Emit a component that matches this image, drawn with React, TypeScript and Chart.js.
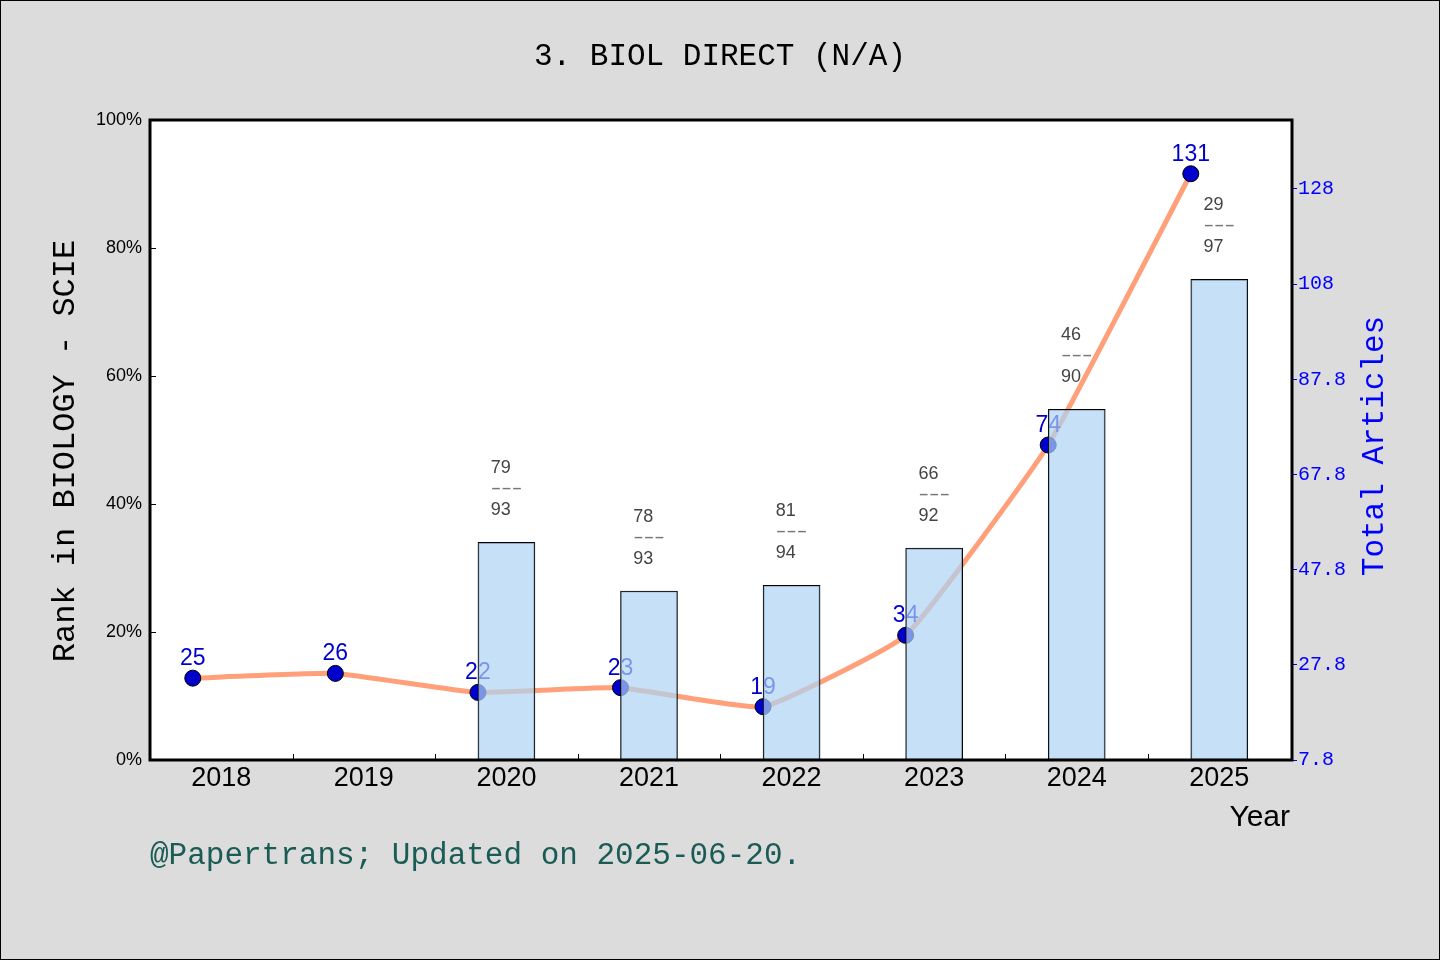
import { useEffect, useRef } from "react";
import { Chart, registerables } from "chart.js";

const years = ["2018", "2019", "2020", "2021", "2022", "2023", "2024", "2025"];
const totalArticles = [25, 26, 22, 23, 19, 34, 74, 131];
// rank bar heights in %, null where there is no bar
const rankPercent = [null, null, 34.0, 26.4, 27.3, 33.1, 54.8, 75.1];
const rankPos = [null, null, 79, 78, 81, 66, 46, 29];
const rankTotal = [null, null, 93, 93, 94, 92, 90, 97];
const rightTicks = [7.8, 27.8, 47.8, 67.8, 87.8, 107.8, 127.8];

const MONO = "'Liberation Mono', 'DejaVu Sans Mono', monospace";
const SANS = "'Liberation Sans', Arial, sans-serif";

const decorPlugin = {
  id: "decor",
  beforeDraw(chart: any) {
    const { ctx, width, height, chartArea } = chart;
    ctx.save();
    ctx.fillStyle = "#dcdcdc";
    ctx.fillRect(0, 0, width, height);
    ctx.strokeStyle = "#000";
    ctx.lineWidth = 1;
    ctx.strokeRect(0.5, 0.5, width - 1, height - 1);
    ctx.fillStyle = "#fff";
    ctx.fillRect(chartArea.left, chartArea.top, chartArea.right - chartArea.left, chartArea.bottom - chartArea.top);
    ctx.restore();
  },
  afterDatasetDraw(chart: any, args: any) {
    if (args.index !== 1) return;
    // point labels, drawn before bars so bars cover them
    const { ctx } = chart;
    const meta = chart.getDatasetMeta(1);
    ctx.save();
    ctx.font = `23px ${SANS}`;
    ctx.fillStyle = "#0000cd";
    ctx.textAlign = "center";
    ctx.textBaseline = "alphabetic";
    meta.data.forEach((pt: any, i: number) => {
      ctx.fillText(String(totalArticles[i]), pt.x, pt.y - 13);
    });
    ctx.restore();
  },
  afterDraw(chart: any) {
    const { ctx, chartArea, scales } = chart;
    const { left, right, top, bottom } = chartArea;
    ctx.save();
    // inward ticks
    ctx.strokeStyle = "#000";
    ctx.lineWidth = 1;
    [20, 40, 60, 80].forEach((v) => {
      const y = Math.round(scales.y.getPixelForValue(v)) + 0.5;
      ctx.beginPath();
      ctx.moveTo(left, y);
      ctx.lineTo(left + 6, y);
      ctx.stroke();
    });
    years.slice(0, 7).forEach((_, i) => {
      const x = Math.round(scales.x.getPixelForValue(i + 0.7)) + 0.5;
      ctx.beginPath();
      ctx.moveTo(x, bottom);
      ctx.lineTo(x, bottom - 6);
      ctx.stroke();
    });
    // frame
    ctx.lineWidth = 3;
    ctx.strokeRect(left, top, right - left, bottom - top);

    // bar labels
    const barMeta = chart.getDatasetMeta(0);
    ctx.textBaseline = "middle";
    ctx.textAlign = "left";
    ctx.font = `18px ${SANS}`;
    barMeta.data.forEach((bar: any, i: number) => {
      if (rankPercent[i] == null) return;
      const sx = 1.75;
      const dashW = ctx.measureText("---").width * sx;
      const x0 = bar.x - dashW / 2;
      const cy = bar.y - 53;
      ctx.save();
      ctx.translate(x0, cy);
      ctx.scale(sx, 1);
      ctx.fillStyle = "#777";
      ctx.fillText("---", 0, 0);
      ctx.restore();
      ctx.fillStyle = "#444";
      ctx.fillText(String(rankPos[i]), x0, cy - 21);
      ctx.fillText(String(rankTotal[i]), x0, cy + 21);
    });

    // titles
    ctx.textBaseline = "middle";
    ctx.fillStyle = "#000";
    ctx.textAlign = "center";
    ctx.font = `31px ${MONO}`;
    ctx.fillText("3. BIOL DIRECT (N/A)", 720, 57);
    ctx.textAlign = "right";
    ctx.font = `30px ${SANS}`;
    ctx.fillText("Year", 1290, 818);
    ctx.textAlign = "left";
    ctx.fillStyle = "#1a5c55";
    ctx.font = `31px ${MONO}`;
    ctx.fillText("@Papertrans; Updated on 2025-06-20.", 150, 856);

    ctx.save();
    ctx.translate(66, 451);
    ctx.rotate(-Math.PI / 2);
    ctx.textAlign = "center";
    ctx.fillStyle = "#000";
    ctx.font = `32px ${MONO}`;
    ctx.fillText("Rank in BIOLOGY - SCIE", 0, 0);
    ctx.restore();

    ctx.save();
    ctx.translate(1375, 446);
    ctx.rotate(-Math.PI / 2);
    ctx.textAlign = "center";
    ctx.fillStyle = "#0000ff";
    ctx.font = `31px ${MONO}`;
    ctx.fillText("Total Articles", 0, 0);
    ctx.restore();

    ctx.restore();
  },
};

export default function App() {
  const canvasRef = useRef<HTMLCanvasElement>(null);

  useEffect(() => {
    document.body.style.margin = "0";
    Chart.register(...registerables);
    const ctx = canvasRef.current!.getContext("2d")!;

    const chart = new Chart(ctx, {
      type: "bar",
      data: {
        datasets: [
          {
            type: "bar",
            data: rankPercent.map((v, i) => ({ x: i + 0.2, y: v })) as any,
            yAxisID: "y",
            xAxisID: "x",
            backgroundColor: "rgba(173, 211, 244, 0.7)",
            borderColor: "#000",
            borderWidth: 1,
            borderSkipped: false,
            barThickness: 57,
            order: 0,
          },
          {
            type: "line",
            data: totalArticles.map((v, i) => ({ x: i, y: v })),
            yAxisID: "y1",
            xAxisID: "x",
            borderColor: "#ffa07a",
            borderWidth: 5,
            tension: 0.12,
            pointRadius: 8,
            pointBackgroundColor: "#0000cd",
            pointBorderColor: "#000",
            pointBorderWidth: 1,
            order: 1,
          } as any,
        ],
      },
      options: {
        responsive: false,
        animation: false,
        layout: { padding: { top: 120, left: 0, right: 0, bottom: 0 } },
        plugins: {
          legend: { display: false },
          tooltip: { enabled: false },
          title: { display: false },
        },
        scales: {
          x: {
            type: "linear",
            offset: false,
            min: -0.3,
            max: 7.71,
            afterBuildTicks: (scale: any) => {
              scale.ticks = years.map((_, i) => ({ value: i + 0.2 }));
            },
            afterFit: (scale: any) => {
              scale.height = 200;
            },
            grid: { display: false, drawTicks: false, offset: false },
            border: { display: false },
            ticks: {
              autoSkip: false,
              maxRotation: 0,
              padding: 2,
              color: "#000",
              font: { family: SANS, size: 27 },
              callback: (_v: any, i: number) => years[i],
            },
          },
          y: {
            type: "linear",
            position: "left",
            min: 0,
            max: 100,
            afterFit: (scale: any) => {
              scale.width = 150;
            },
            grid: { display: false, drawTicks: false },
            border: { display: false },
            ticks: {
              stepSize: 20,
              padding: 8,
              color: "#000",
              font: { family: SANS, size: 18 },
              callback: (v: any) => `${v}%`,
            },
          },
          y1: {
            type: "linear",
            position: "right",
            min: 7.8,
            max: 142.3,
            afterBuildTicks: (scale: any) => {
              scale.ticks = rightTicks.map((v) => ({ value: v }));
            },
            afterFit: (scale: any) => {
              scale.width = 148;
            },
            grid: {
              drawOnChartArea: false,
              drawTicks: true,
              tickLength: 5,
              color: "#0000ff",
              tickColor: "#0000ff",
            },
            border: { display: false },
            ticks: {
              padding: 1,
              color: "#0000ff",
              font: { family: MONO, size: 20 },
              callback: (v: any) => String(Number(Number(v).toPrecision(3))),
            },
          },
        },
      },
      plugins: [decorPlugin],
    });

    return () => {
      chart.destroy();
    };
  }, []);

  return <canvas ref={canvasRef} width={1440} height={960} style={{ display: "block" }} />;
}
